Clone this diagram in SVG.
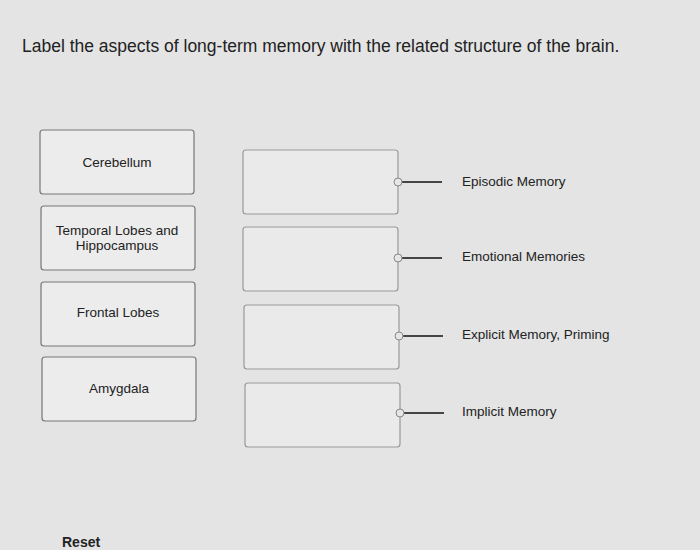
<svg xmlns="http://www.w3.org/2000/svg" width="700" height="550" viewBox="0 0 700 550">
<style>
.t{font-family:"Liberation Sans",Arial,sans-serif;fill:#222;font-size:13.5px}
.lb{fill:#ececec;stroke:#777;stroke-width:1.2}
.dz{fill:#eaeaea;stroke:#999;stroke-width:1.2}
.c{fill:#e6e6e6;stroke:#888;stroke-width:1}
.ln{stroke:#111;stroke-width:1.6}
</style>
<rect width="700" height="550" fill="#e4e4e4"/>
<text class="t" x="22" y="52" style="font-size:17.5px">Label the aspects of long-term memory with the related structure of the brain.</text>
<g id="label-cerebellum"><rect class="lb" x="40" y="130" width="154" height="64" rx="3"/><text class="t" x="117" y="167" text-anchor="middle">Cerebellum</text></g>
<g id="label-temporal"><rect class="lb" x="41" y="206" width="154" height="64" rx="3"/><text class="t" x="117" y="235" text-anchor="middle">Temporal Lobes and</text><text class="t" x="117" y="250" text-anchor="middle">Hippocampus</text></g>
<g id="label-frontal"><rect class="lb" x="41" y="282" width="154" height="64" rx="3"/><text class="t" x="118" y="317" text-anchor="middle">Frontal Lobes</text></g>
<g id="label-amygdala"><rect class="lb" x="42" y="357" width="154" height="64" rx="3"/><text class="t" x="119" y="393" text-anchor="middle">Amygdala</text></g>
<g id="drop1"><rect class="dz" x="243" y="150" width="155" height="64" rx="3"/></g>
<g id="drop2"><rect class="dz" x="243" y="227" width="155" height="64" rx="3"/></g>
<g id="drop3"><rect class="dz" x="244" y="305" width="155" height="64" rx="3"/></g>
<g id="drop4"><rect class="dz" x="245" y="383" width="155" height="64" rx="3"/></g>
<g id="connectors">
<line class="ln" x1="401" y1="182" x2="442" y2="182"/><circle class="c" cx="398" cy="182" r="4"/>
<line class="ln" x1="401" y1="258" x2="442" y2="258"/><circle class="c" cx="398" cy="258" r="4"/>
<line class="ln" x1="402" y1="336" x2="443" y2="336"/><circle class="c" cx="399" cy="336" r="4"/>
<line class="ln" x1="403" y1="413" x2="444" y2="413"/><circle class="c" cx="400" cy="413" r="4"/>
</g>
<g id="aspect1"><text class="t" x="462" y="186">Episodic Memory</text></g>
<g id="aspect2"><text class="t" x="462" y="261">Emotional Memories</text></g>
<g id="aspect3"><text class="t" x="462" y="339">Explicit Memory, Priming</text></g>
<g id="aspect4"><text class="t" x="462" y="416">Implicit Memory</text></g>
<text class="t" x="62" y="547" style="font-size:14px;font-weight:bold">Reset</text>
</svg>
